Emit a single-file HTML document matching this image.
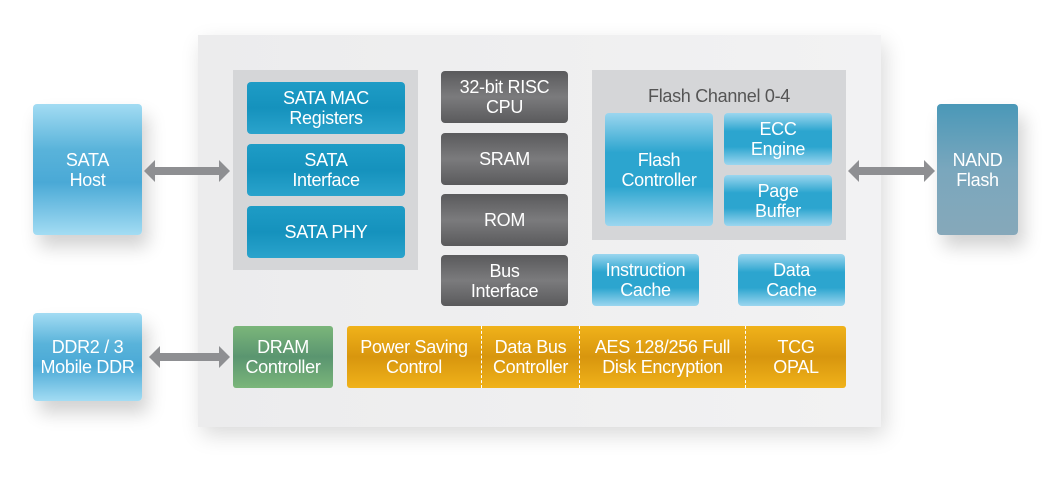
<!DOCTYPE html>
<html><head><style>
body{margin:0;width:1054px;height:487px;background:#fff;position:relative;overflow:hidden;font-family:"Liberation Sans",sans-serif}
.a{position:absolute;box-sizing:border-box;display:flex;align-items:center;justify-content:center;text-align:center;color:#fff;font-size:18px;line-height:20px;letter-spacing:-0.3px}
.blue{background:linear-gradient(#1e9cc6,#1592bd 50%,#2aa3cc);border-radius:4px}
.lb{background:linear-gradient(#a3dcf3,#59b3da 35%,#4aa9d6 60%,#a3dcf3);border-radius:4px;box-shadow:6px 12px 18px rgba(0,0,0,.18)}
.cb{background:linear-gradient(#9bd6ef,#2ca5cf 35%,#2ca5cf 65%,#9bd6ef);border-radius:4px}
.gr{background:linear-gradient(#5a5a5c,#7b7b7d 50%,#5a5a5c);border-radius:4px}
.or{background:linear-gradient(#f0b21a,#d8960e 50%,#f0b21a)}
</style></head><body>
<div class="a" style="left:198px;top:35px;width:683px;height:392px;background:linear-gradient(90deg,#ececed,#f2f2f3);box-shadow:4px 8px 20px rgba(0,0,0,.15)"></div>
<div class="a" style="left:233px;top:70px;width:185px;height:200px;background:#d5d6d8"></div>
<div class="a blue" style="left:247px;top:82px;width:158px;height:52px">SATA MAC<br>Registers</div>
<div class="a blue" style="left:247px;top:144px;width:158px;height:52px">SATA<br>Interface</div>
<div class="a blue" style="left:247px;top:206px;width:158px;height:52px">SATA PHY</div>
<div class="a lb" style="left:33px;top:104px;width:109px;height:131px">SATA<br>Host</div>
<div class="a lb" style="left:33px;top:313px;width:109px;height:88px">DDR2 / 3<br>Mobile DDR</div>
<div class="a lb" style="left:937px;top:104px;width:81px;height:131px;background:linear-gradient(#4a98b8,#7aa7bd 50%,#86a8ba)">NAND<br>Flash</div>
<div class="a gr" style="left:441px;top:71px;width:127px;height:52px">32-bit RISC<br>CPU</div>
<div class="a gr" style="left:441px;top:133px;width:127px;height:52px">SRAM</div>
<div class="a gr" style="left:441px;top:194px;width:127px;height:52px">ROM</div>
<div class="a gr" style="left:441px;top:255px;width:127px;height:51px">Bus<br>Interface</div>
<div class="a" style="left:592px;top:70px;width:254px;height:170px;background:#d5d6d8"></div>
<div class="a" style="left:592px;top:86px;width:254px;height:20px;color:#555">Flash Channel 0-4</div>
<div class="a cb" style="left:605px;top:113px;width:108px;height:113px">Flash<br>Controller</div>
<div class="a cb" style="left:724px;top:113px;width:108px;height:52px">ECC<br>Engine</div>
<div class="a cb" style="left:724px;top:175px;width:108px;height:51px">Page<br>Buffer</div>
<div class="a cb" style="left:592px;top:254px;width:107px;height:52px">Instruction<br>Cache</div>
<div class="a cb" style="left:738px;top:254px;width:107px;height:52px">Data<br>Cache</div>
<div class="a" style="left:233px;top:326px;width:100px;height:62px;border-radius:3px;background:linear-gradient(#7bb67a,#5a9570 50%,#7bb67a)">DRAM<br>Controller</div>
<div class="a or" style="left:347px;top:326px;width:499px;height:62px;border-radius:3px"></div>
<div class="a" style="left:347px;top:326px;width:134px;height:62px">Power Saving<br>Control</div>
<div class="a" style="left:481px;top:326px;width:98px;height:62px;border-left:1px dashed #fff">Data Bus<br>Controller</div>
<div class="a" style="left:579px;top:326px;width:166px;height:62px;border-left:1px dashed #fff">AES 128/256 Full<br>Disk Encryption</div>
<div class="a" style="left:745px;top:326px;width:101px;height:62px;border-left:1px dashed #fff">TCG<br>OPAL</div>
<svg style="position:absolute;left:0;top:0" width="1054" height="487">
<g fill="#8e8f92">
<polygon points="144,171 155,160 155,167 219,167 219,160 230,171 219,182 219,175 155,175 155,182"/>
<polygon points="149,357 160,346 160,353 219,353 219,346 230,357 219,368 219,361 160,361 160,368"/>
<polygon points="848,171 859,160 859,167 924,167 924,160 935,171 924,182 924,175 859,175 859,182"/>
</g></svg>
</body></html>
